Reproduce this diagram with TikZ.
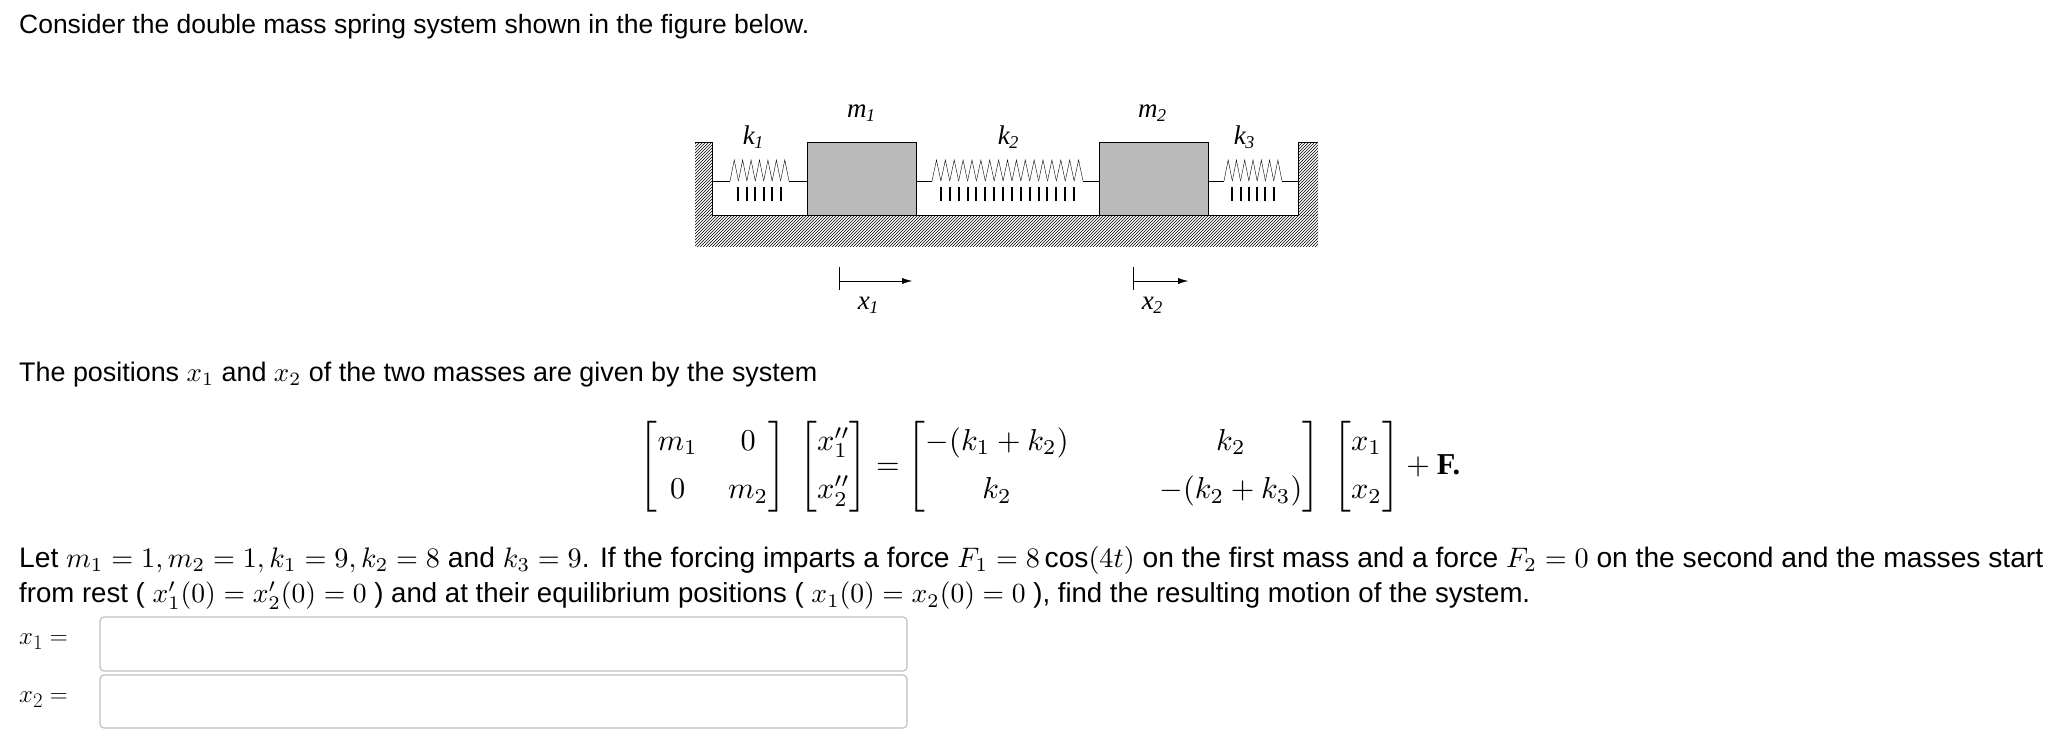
\documentclass[tikz,border=0pt]{standalone}
\usepackage{amsmath}
\usepackage{fontspec}
\setmainfont{Liberation Sans}
\newfontfamily\serifx{Liberation Serif}
\usetikzlibrary{patterns,arrows.meta}
\begin{document}
\begin{tikzpicture}[x=1pt,y=-1pt,
  txt/.style={anchor=west,inner sep=0pt},
  lbl/.style={inner sep=0pt,font=\fontsize{27}{29}\selectfont},
  hatch/.style={pattern=north east lines,pattern color=black},
  massbox/.style={draw,fill=black!27,line width=1pt,minimum width=109pt,minimum height=73pt,inner sep=0pt,anchor=south west},
  answer/.style={draw=black!25,line width=1.2pt,rounded corners=4pt}]
\useasboundingbox (0,0) rectangle (2066,746);
\node[txt] (title) at (19,27) {\resizebox{790pt}{!}{Consider the double mass spring system shown in the figure below.}};
\begin{scope}[xshift=-8pt]
% ground and walls
\fill[hatch] (703,216) rectangle (1326,246);
\fill[hatch] (703,143) rectangle (720,216);
\fill[hatch] (1306,143) rectangle (1326,216);
\draw[line width=1pt] (703,143) -- (720,143) -- (720,216) -- (1306,216) -- (1306,143) -- (1326,143);
% masses
\node[massbox] (m1) at (815,216) {};
\node[massbox] (m2) at (1107,216) {};
% springs
\draw (720,181) -- (738,181) (797,181) -- (m1.west|-0,181);
\draw (m1.east|-0,181) -- (940,181) (1091,181) -- (m2.west|-0,181);
\draw (m2.east|-0,181) -- (1232,181) (1290,181) -- (1306,181);
\foreach \a/\b/\n in {738/797/7, 940/1091/17, 1232/1290/7}{
  \pgfmathsetmacro\d{(\b-\a)/\n}
  \foreach \i in {1,...,\n}{
    \draw ({\a+(\i-1)*\d},181) -- ({\a+(\i-0.5)*\d},160) -- ({\a+\i*\d},181);
  }
  \pgfmathtruncatemacro\m{\n-1}
  \foreach \i in {1,...,\m}{
    \draw[line width=2pt] ({\a+\i*\d},187) -- ({\a+\i*\d},201);
  }
}
\node[lbl] (lm1) at (869,113) {\serifx\itshape m\kern-0.5pt\raisebox{-4pt}{\fontsize{18}{18}\selectfont 1}};
\node[lbl] (lm2) at (1160,113) {\serifx\itshape m\kern-0.5pt\raisebox{-4pt}{\fontsize{18}{18}\selectfont 2}};
\node[lbl] (lk1) at (761,137) {\serifx\itshape k\kern-0.5pt\raisebox{-4pt}{\fontsize{18}{18}\selectfont 1}};
\node[lbl] (lk2) at (1016,137) {\serifx\itshape k\kern-0.5pt\raisebox{-4pt}{\fontsize{18}{18}\selectfont 2}};
\node[lbl] (lk3) at (1252,137) {\serifx\itshape k\kern-0.5pt\raisebox{-4pt}{\fontsize{18}{18}\selectfont 3}};
% displacement arrows
\coordinate (t1a) at (847,267); \coordinate (t1b) at (847,290);
\coordinate (a1s) at (847,281); \coordinate (a1e) at (920,281);
\coordinate (t2a) at (1141,267); \coordinate (t2b) at (1141,290);
\coordinate (a2s) at (1141,281); \coordinate (a2e) at (1196,281);
\draw (t1a) -- (t1b); \draw[-{Latex[length=10pt,width=6pt]}] (a1s) -- (a1e);
\draw (t2a) -- (t2b); \draw[-{Latex[length=10pt,width=6pt]}] (a2s) -- (a2e);
\node[lbl] (lx1) at (876,305) {\serifx\itshape x\kern-0.5pt\raisebox{-4pt}{\fontsize{18}{18}\selectfont 1}};
\node[lbl] (lx2) at (1160,305) {\serifx\itshape x\kern-0.5pt\raisebox{-4pt}{\fontsize{18}{18}\selectfont 2}};
\end{scope}
% text
\node[txt] (pos) at (19,375) {\resizebox{798pt}{!}{The positions $x_1$ and $x_2$ of the two masses are given by the system}};
\node[inner sep=0pt] (eq) at (1050,467) {\resizebox{820pt}{!}{$\begin{bmatrix} m_1 & 0\\[4pt] 0 & m_2\end{bmatrix}\ \begin{bmatrix} x_1''\\[4pt] x_2''\end{bmatrix} = \begin{bmatrix} -(k_1+k_2) & \qquad k_2\\[4pt] k_2 & \qquad -(k_2+k_3)\end{bmatrix}\ \begin{bmatrix} x_1\\[4pt] x_2\end{bmatrix} + \text{\serifx\bfseries F.}$}};
\node[txt] (let) at (19,560) {\resizebox{2024pt}{!}{Let $m_1=1, m_2=1, k_1=9, k_2=8$ and $k_3=9$. If the forcing imparts a force $F_1=8\cos(4t)$ on the first mass and a force $F_2=0$ on the second and the masses start}};
\node[txt] (rest) at (19,596) {\resizebox{1511pt}{!}{from rest ( $x_1'(0)=x_2'(0)=0$ ) and at their equilibrium positions ( $x_1(0)=x_2(0)=0$ ), find the resulting motion of the system.}};
\node[txt,font=\fontsize{30}{32}\selectfont] (q1) at (19,642) {$x_1=$};
\node[txt,font=\fontsize{30}{32}\selectfont] (q2) at (19,700) {$x_2=$};
\draw[answer] (100,617) rectangle (907,671);
\draw[answer] (100,675) rectangle (907,728);
\end{tikzpicture}
\end{document}
